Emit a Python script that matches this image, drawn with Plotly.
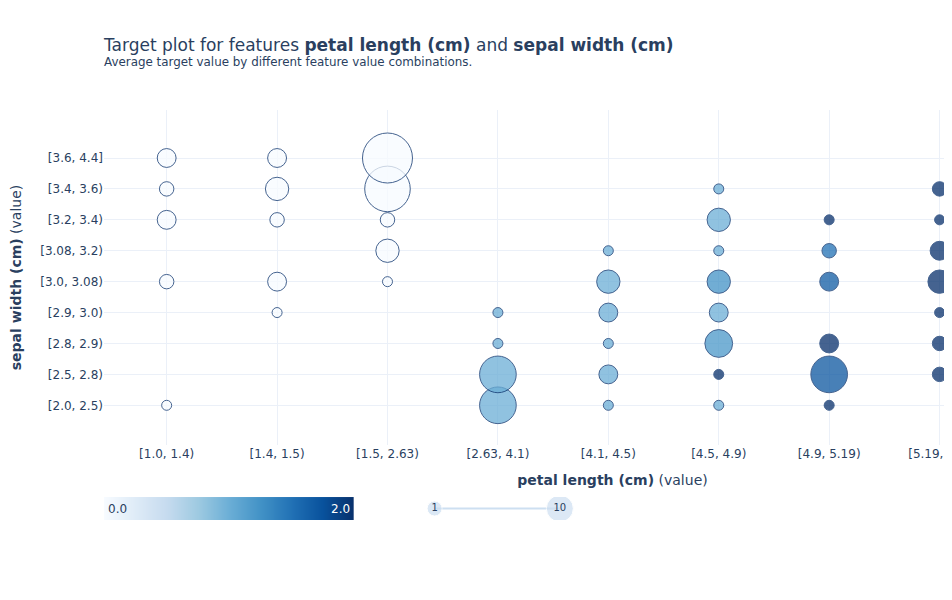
import plotly.graph_objects as go

# ---- data -------------------------------------------------------------
x_labels = ["[1.0, 1.4)", "[1.4, 1.5)", "[1.5, 2.63)", "[2.63, 4.1)", "[4.1, 4.5)",
            "[4.5, 4.9)", "[4.9, 5.19)", "[5.19, 5.7)", "[5.7, 6.9]"]
y_labels = ["[2.0, 2.5)", "[2.5, 2.8)", "[2.8, 2.9)", "[2.9, 3.0)", "[3.0, 3.08)",
            "[3.08, 3.2)", "[3.2, 3.4)", "[3.4, 3.6)", "[3.6, 4.4]"]

# one entry per bubble: x bin index, y bin index, count, average target
cell_x = [0, 0, 0, 0, 0,
          1, 1, 1, 1, 1,
          2, 2, 2, 2, 2,
          3, 3, 3, 3,
          4, 4, 4, 4, 4, 4,
          5, 5, 5, 5, 5, 5, 5, 5,
          6, 6, 6, 6, 6, 6,
          7, 7, 7, 7, 7, 7, 7,
          8, 8, 8, 8, 8, 8]
cell_y = [0, 4, 6, 7, 8,
          3, 4, 6, 7, 8,
          4, 5, 6, 7, 8,
          0, 1, 2, 3,
          0, 1, 2, 3, 4, 5,
          0, 1, 2, 3, 4, 5, 6, 7,
          0, 1, 2, 4, 5, 6,
          1, 2, 3, 4, 5, 6, 7,
          1, 2, 3, 4, 6, 8]
counts = [1, 2, 3, 2, 3,
          1, 3, 2, 4, 3,
          1, 4, 2, 9, 10,
          7, 7, 1, 1,
          1, 3, 1, 3, 4, 1,
          1, 1, 5, 3, 4, 1, 4, 1,
          1, 7, 3, 3, 2, 1,
          2, 2, 1, 4, 3, 1, 2,
          2, 2, 1, 5, 6, 3]
targets = [0, 0, 0, 0, 0,
           0, 0, 0, 0, 0,
           0, 0, 0, 0, 0,
           1, 1, 1, 1,
           1, 1, 1, 1, 1, 1,
           1, 2, 1.2, 1, 1.25, 1, 1, 1,
           2, 1.714, 2, 1.667, 1.5, 2,
           2, 2, 2, 2, 2, 2, 2,
           2, 2, 2, 2, 2, 2]

target_range = [0.0, 2.0]
count_range = [1, 10]
target_legend_text = ["0.0", "2.0"]
count_legend_text = ["1", "10"]

# ---- styling ------------------------------------------------------------
SIZE_MIN, SIZE_MAX = 10, 50
cmin, cmax = min(counts), max(counts)
sizes = [SIZE_MIN + (c - cmin) / (cmax - cmin) * (SIZE_MAX - SIZE_MIN) for c in counts]

font_color = "#2a3f5f"
FONT = "DejaVu Sans"

fig = go.Figure()

fig.add_trace(go.Scatter(
    x=[x_labels[i] for i in cell_x],
    y=[y_labels[j] for j in cell_y],
    mode="markers",
    marker=dict(size=sizes, color=targets, colorscale="Blues",
                cmin=target_range[0], cmax=target_range[1], opacity=0.75,
                line=dict(width=1, color="rgb(8,48,107)")),
    customdata=counts,
    hovertemplate="count: %{customdata}<br>target: %{marker.color:.3f}<extra></extra>",
    xaxis="x", yaxis="y", showlegend=False))

# colour legend (gradient bar)
fig.add_trace(go.Heatmap(
    z=[target_range, target_range], x=target_range, y=[0, 1],
    colorscale="Blues", zmin=target_range[0], zmax=target_range[1],
    zsmooth="best", showscale=False, hoverinfo="skip",
    xaxis="x2", yaxis="y2"))

# size legend
fig.add_trace(go.Scatter(
    x=[0, 1], y=[0, 0], mode="lines+markers+text",
    text=count_legend_text, textposition="middle center",
    textfont=dict(color=font_color, size=10),
    marker=dict(size=[15, 27], color="rgb(205,223,241)"),
    line=dict(color="rgb(205,223,241)", width=2),
    hoverinfo="skip", showlegend=False,
    xaxis="x3", yaxis="y3"))

hidden = dict(showgrid=False, zeroline=False, showticklabels=False, ticks="",
              showline=False, automargin=False)

fig.update_layout(
    template="plotly_white",
    width=1200, height=600,
    font=dict(family=FONT, color=font_color),
    margin=dict(l=96, r=87, t=102, b=88, autoexpand=False),
    showlegend=False,
    title=dict(
        text="Target plot for features <b>petal length (cm)</b> and <b>sepal width (cm)</b>"
             "<br><sup>Average target value by different feature value combinations.</sup>",
        x=0, xref="paper", xanchor="left",
        y=1 - 43 / 600, yref="container", yanchor="top",
        font=dict(size=17, color=font_color, family=FONT)),
    xaxis=dict(domain=[0, 1], type="category", categoryorder="array",
               categoryarray=x_labels, automargin=False,
               tickfont=dict(size=12),
               title=dict(text="<b>petal length (cm)</b> (value)", font=dict(size=14)),
               anchor="y"),
    yaxis=dict(domain=[0.183, 1], type="category", categoryorder="array",
               categoryarray=y_labels, automargin=False,
               tickfont=dict(size=12),
               title=dict(text="<b>sepal width (cm)</b> (value)", font=dict(size=14)),
               anchor="x"),
    xaxis2=dict(domain=[0, 0.2455], range=target_range, anchor="y2", **hidden),
    yaxis2=dict(domain=[0, 0.056], range=[0, 1], anchor="x2", **hidden),
    xaxis3=dict(domain=[0.2975, 0.4965], range=[-0.224, 1.392], anchor="y3", **hidden),
    yaxis3=dict(domain=[0, 0.056], range=[-1, 1], anchor="x3", **hidden),
    annotations=[
        dict(text=target_legend_text[0], x=target_range[0], y=0.5, xref="x2", yref="y2",
             xanchor="left", showarrow=False, xshift=2, font=dict(size=12, color=font_color)),
        dict(text=target_legend_text[1], x=target_range[1], y=0.5, xref="x2", yref="y2",
             xanchor="right", showarrow=False, xshift=-2, font=dict(size=12, color="white")),
    ],
)

fig.write_html("out.html")
